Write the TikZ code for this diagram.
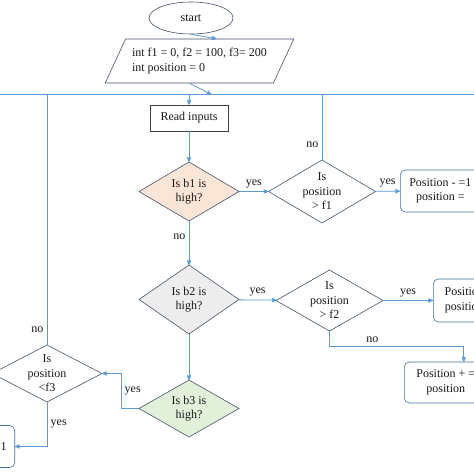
\documentclass[tikz,border=0pt]{standalone}
\usepackage{fontspec}
\setmainfont{Liberation Serif}
\usetikzlibrary{shapes.geometric, positioning, arrows}

\definecolor{flow}{HTML}{5B9BD5}
\definecolor{edge}{HTML}{44546A}
\definecolor{boxline}{HTML}{41719C}
\definecolor{peach}{HTML}{FBE5D6}
\definecolor{silver}{HTML}{EDEDED}
\definecolor{mint}{HTML}{E2F0D9}
\definecolor{ink}{HTML}{1A1A1A}

\begin{document}
\begin{tikzpicture}[x=1pt, y=-1pt, ->, >=stealth', auto, semithick,
  font=\fontsize{12}{14.5}\selectfont, text=ink]
\tikzstyle{terminal}=[ellipse, draw=edge, fill=white, inner sep=0pt, minimum width=84pt, minimum height=32pt]
\tikzstyle{io}=[trapezium, trapezium left angle=54, trapezium right angle=126, trapezium stretches=true, draw=edge, inner sep=0pt, minimum width=189pt, minimum height=44pt, align=left]
\tikzstyle{process}=[rectangle, draw=black!75, minimum width=78pt, minimum height=26pt]
\tikzstyle{decision}=[diamond, draw=edge, inner sep=0pt, outer sep=0pt, minimum width=100pt, minimum height=59pt]
\tikzstyle{action}=[rectangle, rounded corners=5pt, draw=boxline, minimum height=42pt, align=center]
\tikzstyle{link}=[draw=flow, line width=0.8pt]

\clip (0,0) rectangle (474,474);
\fill[white] (0,0) rectangle (474,474);

\node[terminal] (start) at (191,18) {start};
\node[io] (init) at (199.5,61) {int f1 = 0, f2 = 100, f3= 200\\int position = 0};
\coordinate (busL) at (-5,94.5);
\coordinate (busR) at (480,94.5);
\node[process] (read) at (189,118) {Read inputs};

\node[decision, fill=peach, label={[align=center]center:Is b1 is\\high?}] (b1) at (189,191.5) {};
\node[decision, minimum width=107pt, minimum height=63pt, label={[align=center]center:Is\\position\\> f1}] (f1) at (322,191.5) {};
\node[action, anchor=west, minimum width=80pt] (dec) at (400,191) {Position - =1\\position =};

\node[decision, fill=silver, minimum height=69pt, label={[align=center]center:Is b2 is\\high?}] (b2) at (189,299.5) {};
\node[decision, minimum width=107pt, minimum height=61pt, label={[align=center]center:Is\\position\\> f2}] (f2) at (329.5,300.5) {};
\node[action, anchor=west, minimum width=62pt, minimum height=43pt] (set) at (433,300.5) {Position\\position};
\node[action, anchor=west, minimum width=83pt, minimum height=41pt] (inc) at (404,382.5) {Position + =\\position};

\node[decision, fill=mint, minimum height=57pt, label={[align=center]center:Is b3 is\\high?}] (b3) at (189,408.5) {};
\node[decision, minimum width=110pt, minimum height=57pt, label={[align=center]center:Is\\position\\<f3}] (f3) at (47,373.5) {};
\node[action, anchor=east, inner xsep=8pt] (low) at (15,446.5) {1};

\path
(start.south) edge[link] ([xshift=17pt]init.north)
([xshift=-10pt]init.south) edge[link] ([xshift=12pt]init.south |- busL)
(busL) edge[link, -] (busR)
(read.north |- busL) edge[link] (read.north)
(read) edge[link] (b1)
(b1) edge[link] node{yes} (f1)
(f1) edge[link] node{yes} (dec)
(f1) edge[link, -] node[pos=0.24]{no} (f1.north |- busL)
(b1) edge[link] node[swap, pos=0.36]{no} (b2)
(b2) edge[link] node{yes} (f2)
(f2) edge[link] node{yes} (set)
(b2) edge[link] (b3)
(f3) edge[link, -] node[pos=0.06]{no} (f3.north |- busL);

\draw[link] (f2.south) -- ++(0,15) -| node[pos=0.16]{no} ([xshift=18pt]inc.north);
\draw[link] (b3.west) -- ++(-18,0) |- node[pos=0.25, swap]{yes} (f3.east);
\draw[link] (f3.south) |- node[pos=0.25]{yes} (low.east);

\end{tikzpicture}
\end{document}
